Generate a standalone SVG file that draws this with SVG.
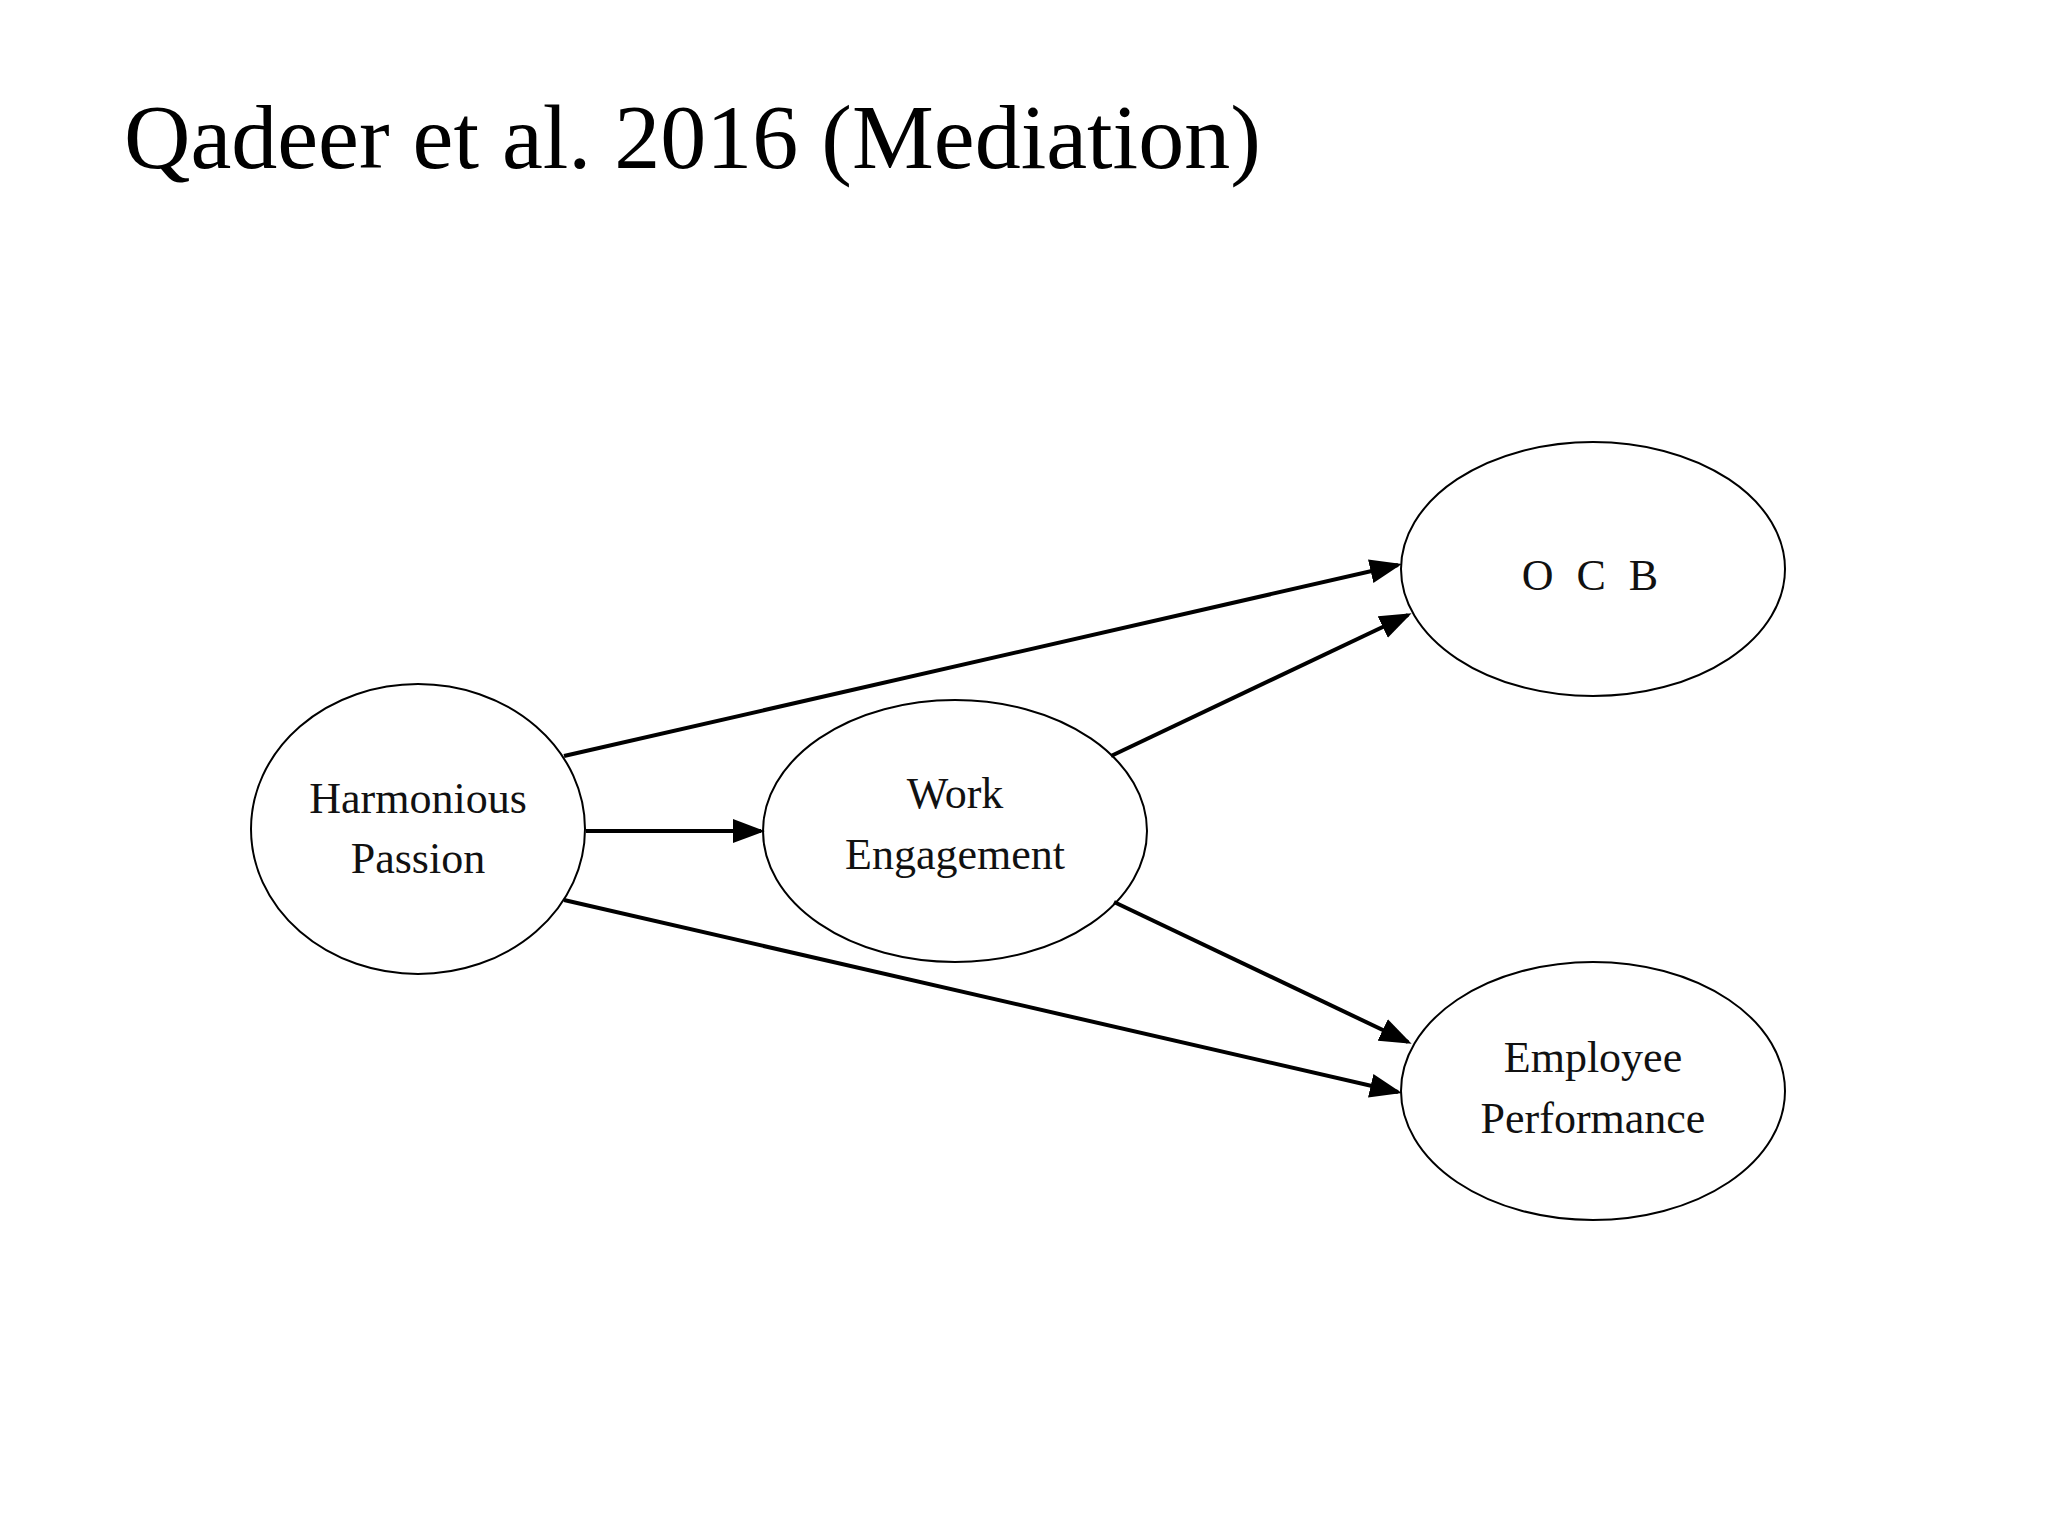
<svg xmlns="http://www.w3.org/2000/svg" width="2048" height="1536" viewBox="0 0 2048 1536">
<style>
.n{fill:#fff;stroke:#000;stroke-width:2}
.t{font-family:"Liberation Serif",serif;font-size:44px;text-anchor:middle;fill:#111}
.c{stroke:#000;stroke-width:4;fill:none;marker-end:url(#a)}
</style>
<defs><marker id="a" markerWidth="8" markerHeight="6" refX="7" refY="3" orient="auto" markerUnits="strokeWidth"><path d="M0,0L8,3L0,6Z" fill="#000"/></marker></defs>
<rect width="2048" height="1536" fill="#fff"/>
<text x="124" y="168" font-family="Liberation Serif,serif" font-size="92" fill="#000">Qadeer et al. 2016 (Mediation)</text>
<g id="hp"><ellipse class="n" cx="418" cy="829" rx="167" ry="145"/><text class="t" x="418" y="813">Harmonious</text><text class="t" x="418" y="873">Passion</text></g>
<g id="we"><ellipse class="n" cx="955" cy="831" rx="192" ry="131"/><text class="t" x="955" y="808">Work</text><text class="t" x="955" y="869">Engagement</text></g>
<g id="ocb"><ellipse class="n" cx="1593" cy="569" rx="192" ry="127"/><text class="t" x="1593" y="590" letter-spacing="6">O C B</text></g>
<g id="ep"><ellipse class="n" cx="1593" cy="1091" rx="192" ry="129"/><text class="t" x="1593" y="1072">Employee</text><text class="t" x="1593" y="1133">Performance</text></g>
<g id="connectors">
<line class="c" x1="564" y1="756" x2="1398" y2="565"/>
<line class="c" x1="586" y1="831" x2="761" y2="831"/>
<line class="c" x1="564" y1="900" x2="1398" y2="1092"/>
<line class="c" x1="1111" y1="756" x2="1408" y2="615"/>
<line class="c" x1="1114" y1="902" x2="1408" y2="1042"/>
</g>
</svg>
